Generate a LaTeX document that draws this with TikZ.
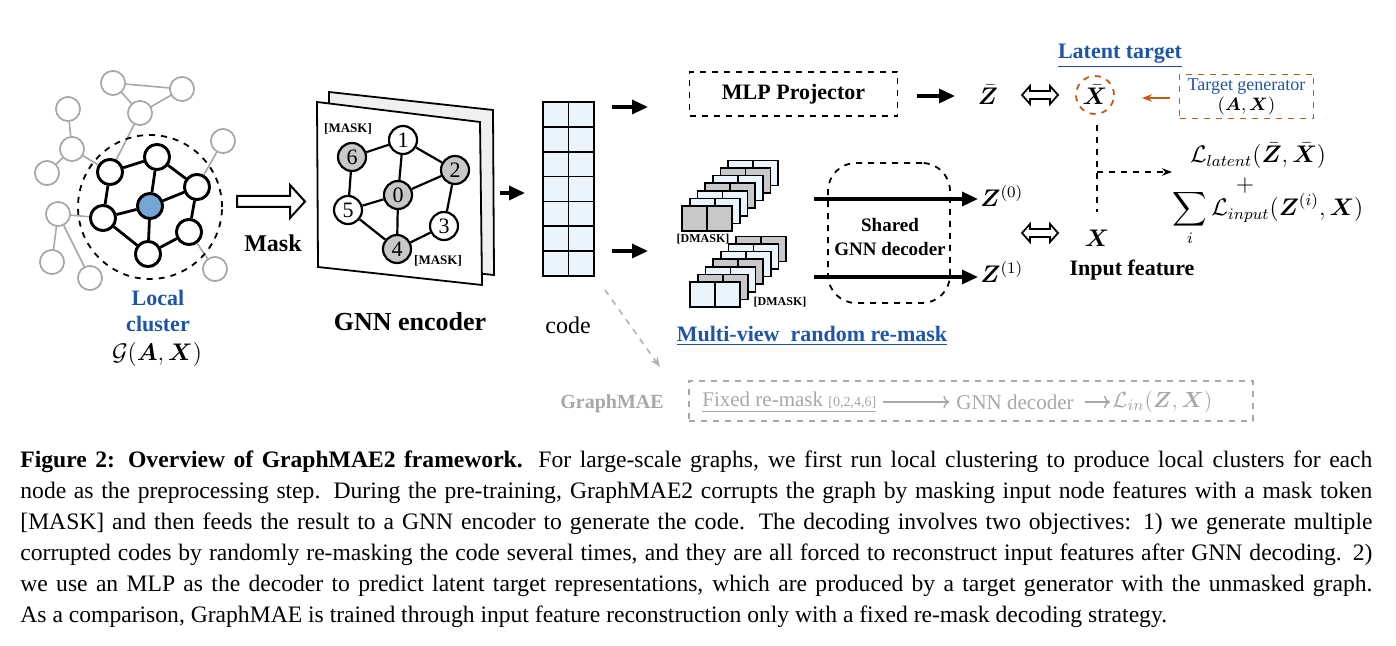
\documentclass[tikz,border=0pt]{standalone}
\usepackage{amsmath,bm}
\usepackage{fontspec}
\setmainfont{Liberation Serif}
\usetikzlibrary{arrows.meta,calc}
\definecolor{cblue}{HTML}{1F55A8}
\definecolor{corange}{HTML}{C55A11}
\definecolor{lgray}{HTML}{A8A8A8}
\definecolor{cellblue}{HTML}{EAF4FD}
\definecolor{cellgray}{HTML}{C8C8C8}
\definecolor{cnode}{HTML}{74A7D6}
\begin{document}
\begin{tikzpicture}[x=0.5pt,y=-0.5pt,
  gn/.style={circle,draw=lgray,line width=0.8pt,minimum size=12pt,inner sep=0pt,fill=white},
  ge/.style={draw=lgray,line width=0.8pt},
  bn/.style={circle,draw=black,line width=1.4pt,minimum size=12.5pt,inner sep=0pt,fill=white},
  be/.style={draw=black,line width=1.4pt},
  en/.style={circle,draw=black,line width=1.1pt,minimum size=14pt,inner sep=0pt,fill=white,font=\fontsize{11}{11}\selectfont},
  eg/.style={en,fill=cellgray},
  ee/.style={draw=black,line width=1.1pt},
  arr/.style={-{Triangle[length=8pt,width=7pt]},line width=1.7pt},
  lbl/.style={font=\bfseries\fontsize{11}{12}\selectfont},
  captxt/.style={anchor=base west,inner sep=0pt,font=\fontsize{11.8}{13}\selectfont}]
\useasboundingbox[fill=white] (0,0) rectangle (1396,646);
% ---------- local graph ----------
\node[gn] (g1) at (113,83) {};
\node[gn] (g2) at (182,89) {};
\node[gn] (g3) at (140,113) {};
\node[gn] (g4) at (68,109) {};
\node[gn] (g5) at (72,149) {};
\node[gn] (g6) at (47,173) {};
\node[gn] (g7) at (223,141) {};
\node[gn] (g8) at (58,214) {};
\node[gn] (g9) at (52,262) {};
\node[gn] (g10) at (90,278) {};
\node[gn] (g11) at (215,269) {};
\node[bn] (tl) at (110,172) {};
\node[bn] (t) at (157,157) {};
\node[bn] (r) at (197,187) {};
\node[bn,fill=cnode] (c) at (150,206) {};
\node[bn] (l) at (103,218) {};
\node[bn] (br) at (189,232) {};
\node[bn] (b) at (148,254) {};
\draw[ge] (g1)--(g2) (g2)--(g3) (g1)--(g3) (g3)--(tl) (g4)--(g5) (g5)--(g6) (g5)--(tl)
  (g7)--(r) (g8)--(l) (g8)--(g9) (g8)--(g10) (g11)--(br);
\draw[be] (tl)--(t) (t)--(r) (t)--(c) (c)--(r) (c)--(l) (c)--(b) (tl)--(l) (l)--(b) (b)--(br) (br)--(r);
\foreach \n in {g1,g2,g3,g4,g5,g6,g7,g8,g9,g10,g11}{\node[gn] at (\n) {};}
\foreach \n in {tl,t,r,l,br,b}{\node[bn] at (\n) {};}
\node[bn,fill=cnode] at (c) {};
\node[circle,draw,dashed,line width=0.9pt,minimum size=72pt,inner sep=0pt] (clu) at (150,207) {};
\node[font=\bfseries\fontsize{11}{13}\selectfont,text=cblue,align=center] (lc) at (158,311) {Local\\cluster};
\node[font=\fontsize{12}{12}\selectfont] (gax) at (157,355) {$\mathcal{G}(\bm{A},\bm{X})$};
% ---------- mask arrow ----------
\draw[line width=1pt,fill=white] (237,196)--(290,196)--(290,185)--(305,201.5)--(290,218)--(290,207)--(237,207)--cycle;
\node[font=\bfseries\fontsize{12}{12}\selectfont] (mask) at (273,243) {Mask};
% ---------- encoder ----------
\draw[line width=0.9pt,fill=gray!12] (329,92)--(493,110)--(494,275)--(330,258)--cycle;
\draw[line width=0.9pt,fill=white] (317,102)--(480,122)--(482,285)--(318,267)--cycle;
\node[en] (n1) at (403,140) {1};
\node[eg] (n6) at (352,157) {6};
\node[eg] (n2) at (455,170) {2};
\node[eg] (n0) at (398,195) {0};
\node[en] (n5) at (348,210) {5};
\node[en] (n3) at (444,226) {3};
\node[eg] (n4) at (397,249) {4};
\draw[ee] (n6)--(n1) (n1)--(n0) (n1)--(n2) (n6)--(n5) (n5)--(n0) (n0)--(n2) (n0)--(n4) (n5)--(n4) (n4)--(n3) (n3)--(n2);
\node[font=\bfseries\fontsize{6.5}{7}\selectfont] (m1) at (348,129) {[MASK]};
\node[font=\bfseries\fontsize{6.5}{7}\selectfont] (m2) at (438,261) {[MASK]};
\node[font=\bfseries\fontsize{13}{13}\selectfont] (enc) at (410,322) {GNN encoder};
% ---------- code ----------
\coordinate (encR) at (500,193);
\coordinate (codeL) at (525,193);
\draw[arr] (encR)--(codeL);
\foreach \i in {0,...,6}{
  \draw[line width=0.9pt,fill=cellblue] (543,{102+\i*24.86}) rectangle (568.5,{102+(\i+1)*24.86});
  \draw[line width=0.9pt,fill=cellblue] (568.5,{102+\i*24.86}) rectangle (594,{102+(\i+1)*24.86});
}
\node[font=\fontsize{12}{12}\selectfont] (code) at (568,325) {code};
\coordinate (c1a) at (612,107); \coordinate (c1b) at (648,107);
\coordinate (c2a) at (612,251); \coordinate (c2b) at (648,251);
\draw[arr] (c1a)--(c1b);
\draw[arr] (c2a)--(c2b);
% ---------- MLP ----------
\node[draw,dashed,line width=0.9pt,minimum width=104pt,minimum height=22pt,lbl] (mlp) at (793.5,94) {MLP Projector};
\coordinate (m3a) at (917,96); \coordinate (m3b) at (955,96);
\draw[arr] (m3a)--(m3b);
\node[font=\fontsize{12}{12}\selectfont,inner sep=1pt] (zbar) at (988,95) {$\bar{\bm{Z}}$};
% ---------- stacks ----------
\newcommand{\myblk}[3]{%
  \draw[line width=0.8pt,fill=#3] (#1,#2) rectangle ++(25,25);
  \draw[line width=0.8pt,fill=#3] (#1+25,#2) rectangle ++(25,25);}
\foreach \k/\col in {6/cellblue,5/cellgray,4/cellblue,3/cellgray,2/cellblue,1/cellblue,0/cellgray}{
  \myblk{682+\k*7.7}{206-\k*7.6}{\col}}
\foreach \k/\col in {6/cellgray,5/cellblue,4/cellblue,3/cellgray,2/cellblue,1/cellgray,0/cellblue}{
  \myblk{690+\k*7.7}{282-\k*7.6}{\col}}
\node[font=\bfseries\fontsize{6}{7}\selectfont] (dm1) at (703,239) {[DMASK]};
\node[font=\bfseries\fontsize{6}{7}\selectfont] (dm2) at (780,302) {[DMASK]};
% ---------- decoder ----------
\node[draw,dashed,line width=0.9pt,rounded corners=14pt,minimum width=61pt,minimum height=70pt] (dec) at (889,233) {};
\node[font=\bfseries\fontsize{9.5}{12}\selectfont,align=center] (dect) at (890,237) {Shared\\GNN decoder};
\coordinate (d0a) at (814,199); \coordinate (d1a) at (814,277);
\node[font=\fontsize{12}{12}\selectfont,anchor=west,inner sep=1pt] (z0) at (978,196) {$\bm{Z}^{(0)}$};
\node[font=\fontsize{12}{12}\selectfont,anchor=west,inner sep=1pt] (z1) at (978,272) {$\bm{Z}^{(1)}$};
\draw[arr] (d0a)--(d0a-|z0.west);
\draw[arr] (d1a)--(d1a-|z1.west);
\node[font=\bfseries\fontsize{11}{12}\selectfont,text=cblue] (mv) at (812,336) {\underline{Multi-view\ \ random re-mask}};
% ---------- right side ----------
\newcommand{\dbl}[2]{\draw[line width=0.9pt,fill=white] (#1-18,#2)--(#1-10,#2-9)--(#1-10,#2-4)--(#1+10,#2-4)--(#1+10,#2-9)--(#1+18,#2)--(#1+10,#2+9)--(#1+10,#2+4)--(#1-10,#2+4)--(#1-10,#2+9)--cycle;}
\dbl{1040}{95}
\dbl{1040}{233}
\node[circle,draw=corange,dashed,line width=0.9pt,minimum size=19pt,inner sep=0pt,font=\fontsize{12}{12}\selectfont] (xbar) at (1095,95) {$\bar{\bm{X}}$};
\node[font=\bfseries\fontsize{11}{12}\selectfont,text=cblue] (lt) at (1120,56) {\underline{Latent target}};
\node[draw=corange,dashed,line width=0.8pt,minimum width=67pt,minimum height=22pt,align=center,font=\fontsize{9}{10}\selectfont,inner sep=1pt] (tg) at (1246.5,96.5) {\textcolor{cblue}{Target generator}\\$(\bm{A},\bm{X})$};
\coordinate (tga) at (1170,98);
\coordinate (tgb) at (1142,98);
\draw[-{Stealth[length=5pt]},corange,line width=1pt] (tga)--(tgb);
\node[font=\fontsize{13}{13}\selectfont] (xin) at (1097,238) {$\bm{X}$};
\coordinate (vtop) at (1097,125);
\coordinate (vbot) at (1097,212);
\draw[dashed,line width=0.9pt] (vtop)--(vbot);
\coordinate (jn) at (1097,172);
\coordinate (lossL) at (1172,172);
\draw[dashed,line width=0.9pt,-{Stealth[length=5pt]}] (jn)--(lossL);
\node[font=\fontsize{11.5}{12}\selectfont,inner sep=1pt] (lat) at (1258,156) {$\mathcal{L}_{latent}(\bar{\bm{Z}},\bar{\bm{X}})$};
\node[font=\fontsize{11.5}{12}\selectfont,inner sep=0pt] (plus) at (1245,186) {$+$};
\node[font=\fontsize{11.5}{12}\selectfont,inner sep=1pt] (sum) at (1268,218) {$\displaystyle\sum_i\mathcal{L}_{input}(\bm{Z}^{(i)},\bm{X})$};
\node[lbl] (inf) at (1132,270) {Input feature};
% ---------- GraphMAE ----------
\coordinate (ga) at (605,290);
\coordinate (gb) at (660,367);
\draw[gray!60,dashed,line width=0.8pt,-{Stealth[length=5pt]}] (ga)--(gb);
\node[font=\bfseries\fontsize{10}{10}\selectfont,text=lgray] (gm) at (612,404) {GraphMAE};
\node[draw=lgray,dashed,line width=0.8pt,minimum width=282pt,minimum height=20pt] (gbox) at (971,401) {};
\node[text=lgray,font=\fontsize{10.5}{10}\selectfont,anchor=west,inner sep=1pt] (fr) at (700,402) {\underline{Fixed re-mask {\fontsize{7}{7}\selectfont[0,2,4,6]}}};
\node[text=lgray,font=\fontsize{10.5}{10}\selectfont] (gd) at (1015,402) {GNN decoder};
\node[text=lgray,font=\fontsize{11}{10}\selectfont,anchor=west,inner sep=1pt] (lin) at (1110,402) {$\mathcal{L}_{in}(\bm{Z},\bm{X})$};
\draw[lgray,line width=0.7pt,-{To[length=3pt]}] (fr.east)++(4,0) -- (gd.west);
\draw[lgray,line width=0.7pt,-{To[length=3pt]}] (gd.east)++(4,0) -- (lin.west);
% ---------- caption ----------
\node[captxt] (l1) at (20,467) {\makebox[676pt][s]{\textbf{Figure 2: Overview of GraphMAE2 framework.} For large-scale graphs, we first run local clustering to produce local clusters for each}};
\node[captxt] (l2) at (20,498) {\makebox[676pt][s]{node as the preprocessing step. During the pre-training, GraphMAE2 corrupts the graph by masking input node features with a mask token}};
\node[captxt] (l3) at (20,529) {\makebox[676pt][s]{[MASK] and then feeds the result to a GNN encoder to generate the code. The decoding involves two objectives: 1) we generate multiple}};
\node[captxt] (l4) at (20,560) {\makebox[676pt][s]{corrupted codes by randomly re-masking the code several times, and they are all forced to reconstruct input features after GNN decoding. 2)}};
\node[captxt] (l5) at (20,591) {\makebox[676pt][s]{we use an MLP as the decoder to predict latent target representations, which are produced by a target generator with the unmasked graph.}};
\node[captxt] (l6) at (20,622) {As a comparison, GraphMAE is trained through input feature reconstruction only with a fixed re-mask decoding strategy.};
\end{tikzpicture}
\end{document}
